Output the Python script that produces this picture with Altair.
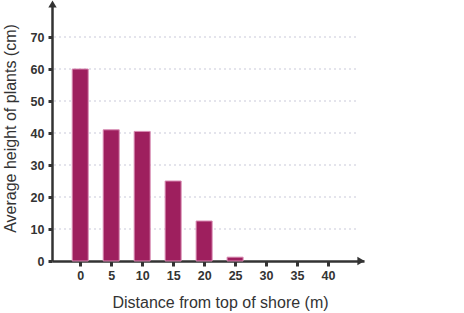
import altair as alt
import pandas as pd

distance = [0, 5, 10, 15, 20, 25, 30, 35, 40]
height = [60, 41, 40.5, 25, 12.5, 1.2, 0, 0, 0]
grid_values = [10, 20, 30, 40, 50, 60, 70]

FONT = "Liberation Sans"
BAR = "#9e1f5e"
AX = "#333333"

df = pd.DataFrame({"distance": distance, "height": height})
grid_df = pd.DataFrame({"g": grid_values})

xscale = alt.Scale(domain=[-3.75, 45], zero=False, nice=False)
yscale = alt.Scale(domain=[0, 80], nice=False)

x_axis = alt.Axis(
    values=distance, title="Distance from top of shore (m)",
    domainColor=AX, domainWidth=2.5, tickColor=AX, tickSize=5, tickWidth=3,
    labelFont=FONT, labelFontSize=12.5, labelFontWeight="bold", labelColor=AX,
    labelPadding=3, grid=False,
    titleFont=FONT, titleFontSize=16, titleFontWeight="normal", titleColor=AX,
    titleX=168, titleY=46, titleAlign="center", titleBaseline="alphabetic",
)
y_axis = alt.Axis(
    values=[0, 10, 20, 30, 40, 50, 60, 70], title="Average height of plants (cm)",
    domainColor=AX, domainWidth=2.5, tickColor=AX, tickSize=4, tickWidth=3,
    labelFont=FONT, labelFontSize=12.5, labelFontWeight="bold", labelColor=AX,
    labelPadding=4, grid=False,
    titleFont=FONT, titleFontSize=16, titleFontWeight="normal", titleColor=AX,
    titleX=-37, titleY=123, titleAngle=270, titleAlign="center",
    titleBaseline="alphabetic",
)

grid = alt.Chart(grid_df).mark_rule(
    color="#dcdce6", strokeWidth=1.5, strokeDash=[2, 3]
).encode(
    y=alt.Y("g:Q", scale=yscale, axis=y_axis),
    x=alt.value(2), x2=alt.value(306),
)

bars = alt.Chart(df).transform_filter("datum.height > 0").mark_bar(
    size=16, color=BAR, stroke="#d88ab2", strokeWidth=1
).encode(
    x=alt.X("distance:Q", scale=xscale, axis=x_axis),
    y=alt.Y("height:Q", scale=yscale, axis=y_axis),
)

arrow_y = alt.Chart(pd.DataFrame({"a": [0]})).mark_point(
    shape="triangle-up", filled=True, color=AX, size=70, opacity=1, clip=False
).encode(x=alt.value(0.5), y=alt.value(-1))

arrow_x = alt.Chart(pd.DataFrame({"a": [0]})).mark_point(
    shape="triangle-right", filled=True, color=AX, size=70, opacity=1, clip=False
).encode(x=alt.value(309), y=alt.value(256))

chart = alt.layer(grid, bars, arrow_y, arrow_x).properties(
    width=312, height=256,
    background="white",
    autosize=alt.AutoSizeParams(type="none"),
    padding={"left": 52, "top": 5, "right": 100, "bottom": 52},
).configure_view(strokeWidth=0, stroke="transparent")

chart.save("out.html", embed_options={"renderer": "svg", "actions": False})
